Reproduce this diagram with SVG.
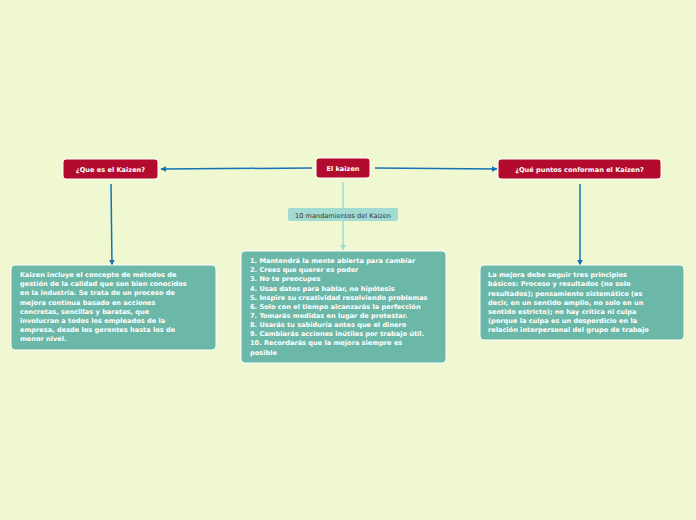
<svg xmlns="http://www.w3.org/2000/svg" width="696" height="520" viewBox="0 0 696 520">
<style>
.r{fill:#b30b2d;stroke:#fff;stroke-width:1}
.b{fill:#6bb8a8;stroke:#fff;stroke-width:1}
.t{font-family:"DejaVu Sans",Verdana,sans-serif;font-weight:bold;font-size:6.6px;fill:#fff}
.c{stroke:#1273b5;stroke-width:1.5;fill:none}
</style>
<defs>
<marker id="a" viewBox="0 0 10 10" refX="9" refY="5" markerWidth="4" markerHeight="4" orient="auto"><path d="M0,0L10,5L0,10z" fill="#1273b5"/></marker>
<marker id="g" viewBox="0 0 10 10" refX="9" refY="5" markerWidth="4" markerHeight="4" orient="auto"><path d="M0,0L10,5L0,10z" fill="#a1dbd2"/></marker>
</defs>
<rect width="696" height="520" fill="#eff8d0"/>
<g id="connectors">
<path class="c" d="M312,168 L161,169" marker-end="url(#a)"/>
<path class="c" d="M375,168 L497,169" marker-end="url(#a)"/>
<path class="c" d="M111,184 L112,265" marker-end="url(#a)"/>
<path class="c" d="M580,184 L580,265" marker-end="url(#a)"/>
<path d="M343,182 L343,250" stroke="#a1dbd2" stroke-width="1.5" fill="none" marker-end="url(#g)"/>
</g>
<g id="root"><rect class="r" x="316" y="158" width="54" height="20" rx="3"/><text class="t" x="343" y="171" text-anchor="middle">El kaizen</text></g>
<g id="q1"><rect class="r" x="63" y="159" width="95" height="20" rx="3"/><text class="t" x="110.5" y="172" text-anchor="middle">¿Que es el Kaizen?</text></g>
<g id="q2"><rect class="r" x="498" y="159" width="163" height="20" rx="3"/><text class="t" x="579.5" y="172" text-anchor="middle">¿Qué puntos conforman el Kaizen?</text></g>
<g id="label"><rect x="288" y="208" width="110" height="13" rx="2" fill="#a1dbd2"/><text x="343" y="217.5" text-anchor="middle" style="font-family:'DejaVu Sans',sans-serif;font-size:6.6px;fill:#333">10 mandamientos del Kaizen</text></g>
<g id="left"><rect class="b" x="11" y="265" width="205" height="85" rx="4"/>
<text class="t"><tspan x="20" y="277">Kaizen incluye el concepto de métodos de</tspan><tspan x="20" y="286">gestión de la calidad que son bien conocidos</tspan><tspan x="20" y="295">en la industria. Se trata de un proceso de</tspan><tspan x="20" y="305">mejora continua basado en acciones</tspan><tspan x="20" y="314">concretas, sencillas y baratas, que</tspan><tspan x="20" y="323">involucran a todos los empleados de la</tspan><tspan x="20" y="332">empresa, desde los gerentes hasta los de</tspan><tspan x="20" y="341">menor nivel.</tspan></text></g>
<g id="mid"><rect class="b" x="241" y="251" width="205" height="112" rx="4"/>
<text class="t"><tspan x="250" y="263">1. Mantendrá la mente abierta para cambiar</tspan><tspan x="250" y="272">2. Crees que querer es poder</tspan><tspan x="250" y="281">3. No te preocupes</tspan><tspan x="250" y="291">4. Usas datos para hablar, no hipótesis</tspan><tspan x="250" y="300">5. Inspire su creatividad resolviendo problemas</tspan><tspan x="250" y="309">6. Solo con el tiempo alcanzarás la perfección</tspan><tspan x="250" y="318">7. Tomarás medidas en lugar de protestar.</tspan><tspan x="250" y="327">8. Usarás tu sabiduría antes que el dinero</tspan><tspan x="250" y="336">9. Cambiarás acciones inútiles por trabajo útil.</tspan><tspan x="250" y="345">10. Recordarás que la mejora siempre es</tspan><tspan x="250" y="355">posible</tspan></text></g>
<g id="right"><rect class="b" x="480" y="265" width="204" height="75" rx="4"/>
<text class="t"><tspan x="488" y="277">La mejora debe seguir tres principios</tspan><tspan x="488" y="286">básicos: Proceso y resultados (no solo</tspan><tspan x="488" y="296">resultados); pensamiento sistemático (es</tspan><tspan x="488" y="305">decir, en un sentido amplio, no solo en un</tspan><tspan x="488" y="314">sentido estricto); no hay crítica ni culpa</tspan><tspan x="488" y="323">(porque la culpa es un desperdicio en la</tspan><tspan x="488" y="332">relación interpersonal del grupo de trabajo</tspan></text></g>
</svg>
